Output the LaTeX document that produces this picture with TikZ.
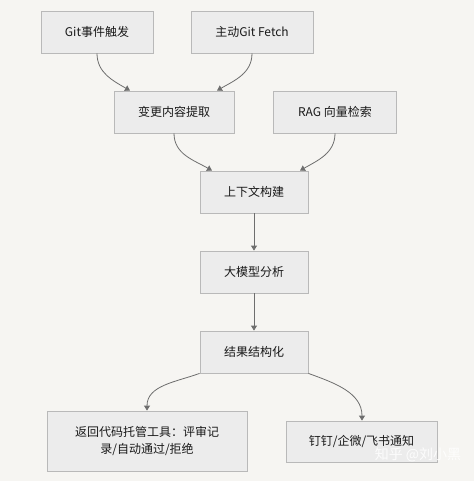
\documentclass[tikz,border=0pt]{standalone}
\usepackage{fontspec}
\setmainfont{Noto Sans CJK SC}
\definecolor{bgcol}{HTML}{F6F5F2}
\definecolor{boxfill}{HTML}{ECECEC}
\definecolor{boxline}{HTML}{B9B9B9}
\definecolor{flowcol}{HTML}{6E6E6E}
\tikzset{
	stepbox/.style={draw=boxline, fill=boxfill, line width=0.8pt, inner sep=0pt, text=black!90, font=\fontsize{12}{17}\selectfont, align=center},
	flow/.style={draw=flowcol, line width=0.8pt, -{Triangle[length=5pt,width=6pt]}}
}
\usetikzlibrary{arrows.meta}
\begin{document}
\begin{tikzpicture}[x=1pt, y=-1pt]
		\fill[bgcol] (0,0) rectangle (474,481);
		\useasboundingbox (0,0) rectangle (474,481);
		% sources
		\node[stepbox, minimum width=112pt, minimum height=42pt] (git) at (97,32) {Git事件触发};
		\node[stepbox, minimum width=122pt, minimum height=42pt] (fetch) at (252,32) {主动Git Fetch};
		\node[stepbox, minimum width=120pt, minimum height=42pt] (diff) at (174,112) {变更内容提取};
		\node[stepbox, minimum width=123pt, minimum height=42pt] (rag) at (335,112) {RAG 向量检索};
		% main chain
		\node[stepbox, minimum width=108pt, minimum height=42pt] (ctx) at (254,192) {上下文构建};
		\node[stepbox, minimum width=108pt, minimum height=42pt] (llm) at (254,272) {大模型分析};
		\node[stepbox, minimum width=108pt, minimum height=42pt] (res) at (254,352) {结果结构化};
		% outputs
		\node[stepbox, minimum width=200pt, minimum height=60pt] (back) at (147,441) {返回代码托管工具：评审记\\录/自动通过/拒绝};
		\node[stepbox, minimum width=151pt, minimum height=41pt] (notify) at (361.5,441.5) {钉钉/企微/飞书通知};
		\draw[flow] (git.south) to[out=-90, in=150] (diff.north -| 130,0);
		\draw[flow] (fetch.south) to[out=-90, in=30] (diff.north -| 217,0);
		\draw[flow] (diff.south) to[out=-90, in=150] (ctx.north -| 212,0);
		\draw[flow] (rag.south) to[out=-90, in=30] (ctx.north -| 300,0);
		\draw[flow] (ctx) -- (llm);
		\draw[flow] (llm) -- (res);
		\draw[flow] (res.south west) to[out=-160, in=90] (back.north -| 147,0);
		\draw[flow] (res.south east) to[out=-20, in=90] (notify.north -| 362,0);
		\node[text=white, opacity=0.85, font=\fontsize{14}{14}\selectfont] (mark) at (418,455) {知乎 @刘小黑};
	\end{tikzpicture}
\end{document}
